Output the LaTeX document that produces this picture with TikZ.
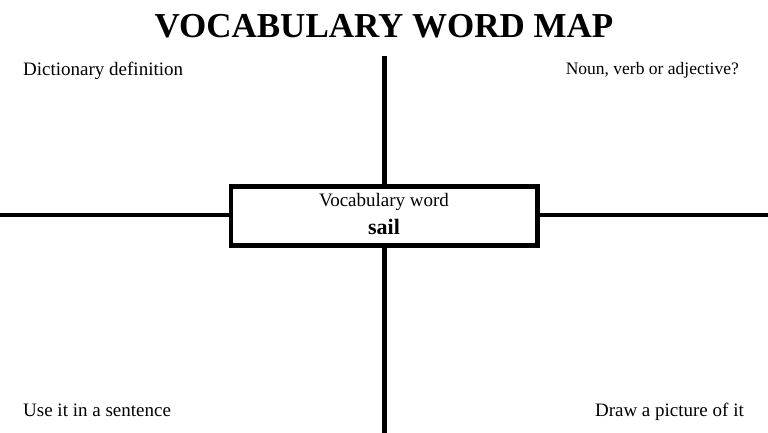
\documentclass[tikz,border=0pt]{standalone}
\usepackage{fontspec}
\setmainfont{Liberation Serif}
\begin{document}
\begin{tikzpicture}[x=1pt,y=-1pt,
  heavy/.style={line width=4.5pt},
  lbl/.style={inner sep=0pt,font=\fontsize{19}{21}\selectfont},
  ]
\useasboundingbox[fill=white] (0,0) rectangle (768,433);
\node[draw,heavy,minimum width=306.5pt,minimum height=58.8pt,inner sep=0pt] (box) at (384,216.1) {};
\node[lbl,anchor=base] (vw) at (384,206) {Vocabulary word};
\node[inner sep=0pt,anchor=base,font=\bfseries\fontsize{22}{24}\selectfont] (w) at (384,234) {sail};
\node[inner sep=0pt,anchor=base,font=\bfseries\fontsize{35}{38}\selectfont] (title) at (384,38) {VOCABULARY WORD MAP};
\node[lbl,anchor=base west] (dd) at (23,76) {Dictionary definition};
\node[lbl,anchor=base east,font=\fontsize{17.5}{19}\selectfont] (pos) at (739,75) {Noun, verb or adjective?};
\node[lbl,anchor=base west] (us) at (23,416) {Use it in a sentence};
\node[lbl,anchor=base east] (dp) at (744,416) {Draw a picture of it};
\coordinate (top) at (384.3,56);
\coordinate (bot) at (384.3,433);
\coordinate (lft) at (0,215);
\coordinate (rgt) at (768,215);
\draw[heavy] (top) -- (top|-box.north);
\draw[heavy] (bot) -- (bot|-box.south);
\draw[heavy] (lft) -- (lft-|box.west);
\draw[heavy] (rgt) -- (rgt-|box.east);
\end{tikzpicture}
\end{document}
